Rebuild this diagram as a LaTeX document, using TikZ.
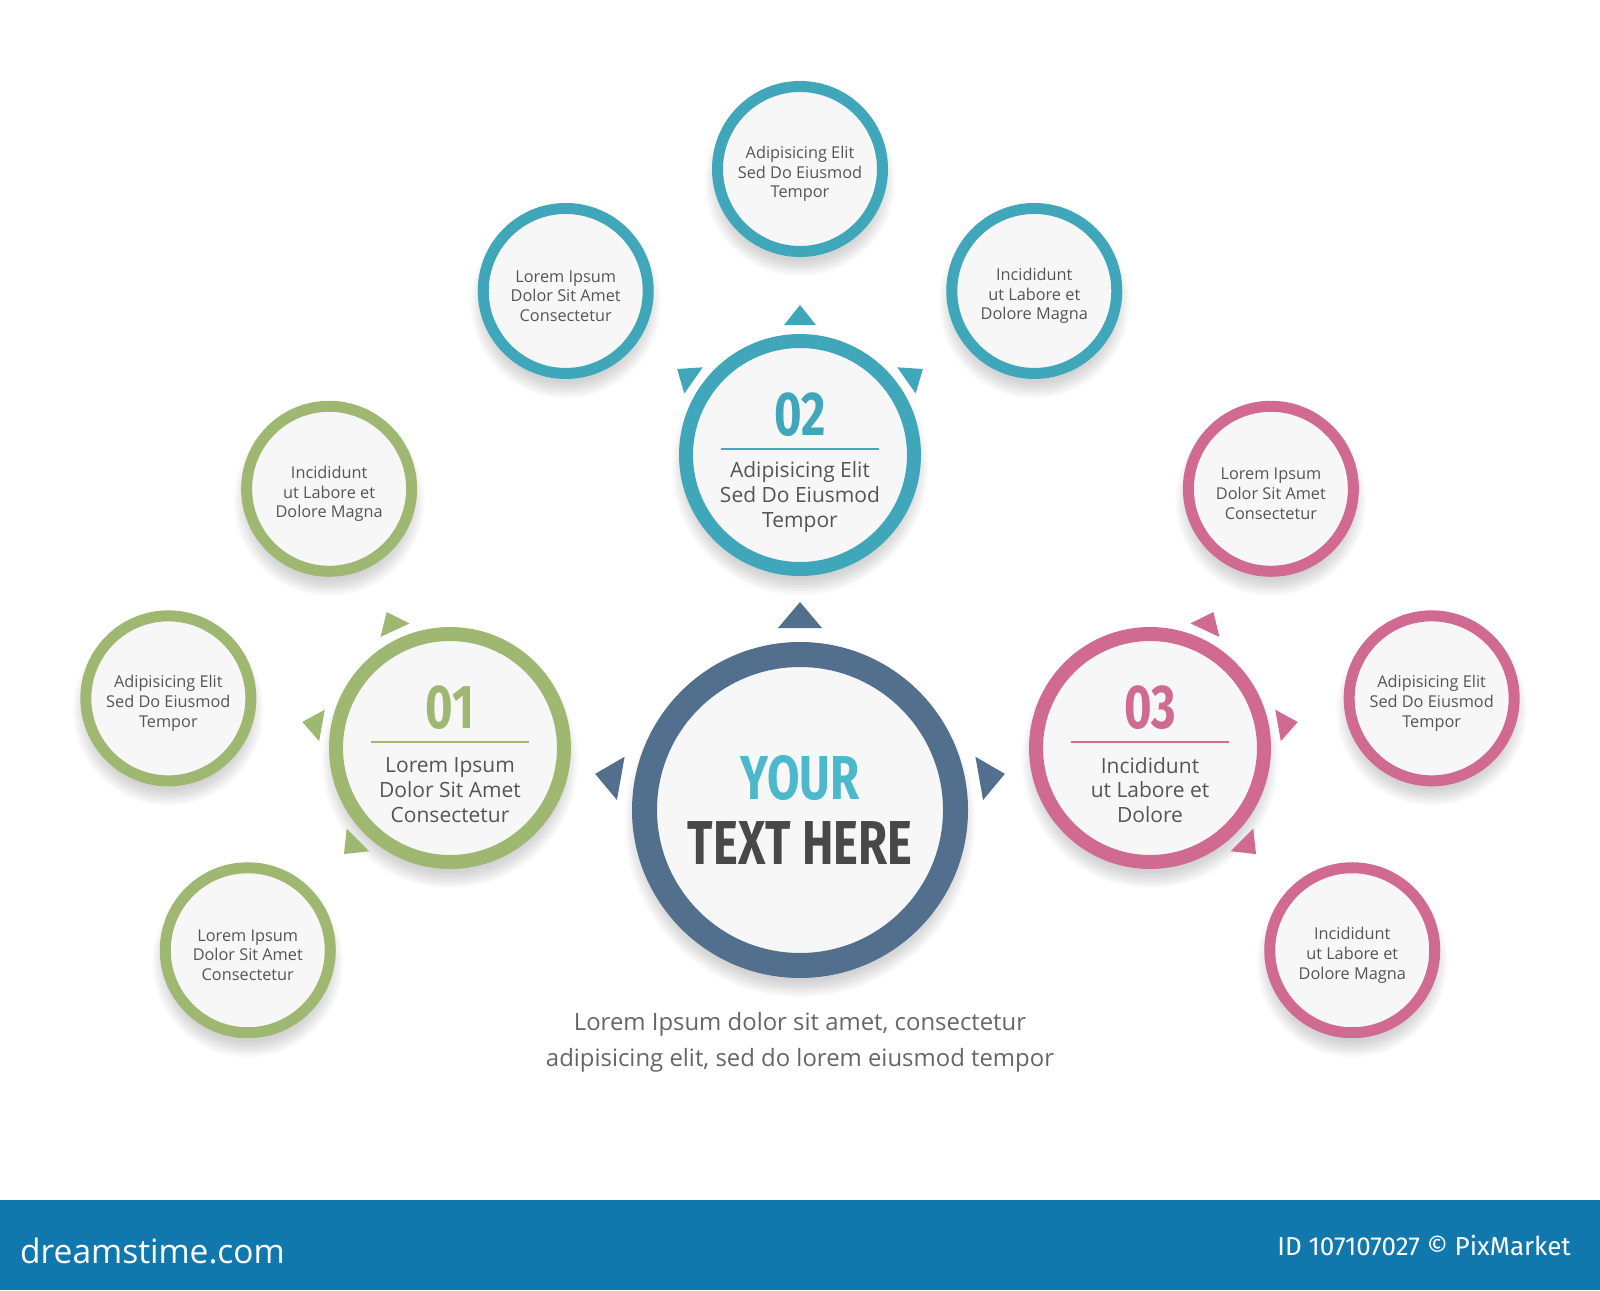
\documentclass[tikz,border=0pt]{standalone}
\usepackage{fontspec}
\setmainfont{Open Sans}
\newfontfamily\headfont[FakeStretch=0.76]{Fira Sans}
\newfontfamily\idfont{Fira Sans}
\usetikzlibrary{calc}
\definecolor{cTeal}{RGB}{64,166,186}
\definecolor{cYour}{RGB}{75,184,204}
\definecolor{cGreen}{RGB}{158,184,114}
\definecolor{cPink}{RGB}{208,106,145}
\definecolor{cDark}{RGB}{82,111,141}
\definecolor{cFill}{RGB}{247,247,247}
\definecolor{cTxt}{RGB}{85,85,85}
\definecolor{cBar}{RGB}{17,120,174}
\newcommand\softshadow[2]{%
  \foreach \k in {1,...,12}{\fill[black,opacity=0.015] ($(#1)+(0,12)$) circle ({#2+9-\k*1.5});}}
\newcommand\tri[6]{%
  \fill[#6] ($(#1)+(#2:#3)$) -- ($(#1)+(#2:#4)+(#2+90:#5)$) -- ($(#1)+(#2:#4)+(#2-90:#5)$) -- cycle;}
\tikzset{
  ring/.style={circle, inner sep=0pt, fill=cFill, draw=#1},
  smallc/.style={ring=#1, minimum size=165pt, line width=11pt},
  mainc/.style={ring=#1, minimum size=228pt, line width=14pt},
  smalltxt/.style={align=center, text=cTxt, inner sep=0pt, font=\fontsize{16.3}{19.6}\selectfont},
  maintxt/.style={align=center, text=cTxt, inner sep=0pt, font=\fontsize{21}{24.6}\selectfont},
  numtxt/.style={inner sep=0pt, text=#1, font=\headfont\bfseries\fontsize{62}{62}\selectfont},
}
\begin{document}
\begin{tikzpicture}[x=1pt,y=-1pt]
\useasboundingbox (0,0) rectangle (1600,1290);
% ---- coordinates
\coordinate (pc) at (800,810);
\coordinate (p1) at (450,748);
\coordinate (p2) at (800,455);
\coordinate (p3) at (1150,748);
\coordinate (p2a) at ($(p2)+(-145:286)$);
\coordinate (p2b) at ($(p2)+(-90:286)$);
\coordinate (p2c) at ($(p2)+(-35:286)$);
\coordinate (p1a) at ($(p1)+(-115:286)$);
\coordinate (p1b) at ($(p1)+(-170:286)$);
\coordinate (p1c) at ($(p1)+(135:286)$);
\coordinate (p3a) at ($(p3)+(-65:286)$);
\coordinate (p3b) at ($(p3)+(-10:286)$);
\coordinate (p3c) at ($(p3)+(45:286)$);
% ---- shadows
\foreach \p in {p2a,p2b,p2c,p1a,p1b,p1c,p3a,p3b,p3c}{\softshadow{\p}{88}}
\foreach \p in {p1,p2,p3}{\softshadow{\p}{121}}
\softshadow{pc}{168}
% ---- triangles
\tri{pc}{-90}{208}{182}{22}{cDark}
\tri{pc}{-170}{208}{182}{22}{cDark}
\tri{pc}{-10}{208}{182}{22}{cDark}
\tri{p2}{-90}{150}{130}{16}{cTeal}
\tri{p2}{-145}{150}{130}{16}{cTeal}
\tri{p2}{-35}{150}{130}{16}{cTeal}
\tri{p1}{-115}{150}{130}{16}{cGreen}
\tri{p1}{-170}{150}{130}{16}{cGreen}
\tri{p1}{135}{150}{130}{16}{cGreen}
\tri{p3}{-65}{150}{130}{16}{cPink}
\tri{p3}{-10}{150}{130}{16}{cPink}
\tri{p3}{45}{150}{130}{16}{cPink}
% ---- small circles
\node[smallc=cTeal] (c2a) at (p2a) {};
\node[smallc=cTeal] (c2b) at (p2b) {};
\node[smallc=cTeal] (c2c) at (p2c) {};
\node[smallc=cGreen] (c1a) at (p1a) {};
\node[smallc=cGreen] (c1b) at (p1b) {};
\node[smallc=cGreen] (c1c) at (p1c) {};
\node[smallc=cPink] (c3a) at (p3a) {};
\node[smallc=cPink] (c3b) at (p3b) {};
\node[smallc=cPink] (c3c) at (p3c) {};
\node[smalltxt] (t2a) at ($(p2a)+(0,5)$) {Lorem Ipsum\\Dolor Sit Amet\\Consectetur};
\node[smalltxt] (t2b) at ($(p2b)+(0,5)$) {Adipisicing Elit\\Sed Do Eiusmod\\Tempor};
\node[smalltxt] (t2c) at ($(p2c)+(0,5)$) {Incididunt\\ut Labore et\\Dolore Magna};
\node[smalltxt] (t1a) at ($(p1a)+(0,5)$) {Incididunt\\ut Labore et\\Dolore Magna};
\node[smalltxt] (t1b) at ($(p1b)+(0,5)$) {Adipisicing Elit\\Sed Do Eiusmod\\Tempor};
\node[smalltxt] (t1c) at ($(p1c)+(0,5)$) {Lorem Ipsum\\Dolor Sit Amet\\Consectetur};
\node[smalltxt] (t3a) at ($(p3a)+(0,5)$) {Lorem Ipsum\\Dolor Sit Amet\\Consectetur};
\node[smalltxt] (t3b) at ($(p3b)+(0,5)$) {Adipisicing Elit\\Sed Do Eiusmod\\Tempor};
\node[smalltxt] (t3c) at ($(p3c)+(0,5)$) {Incididunt\\ut Labore et\\Dolore Magna};
% ---- main circles
\node[mainc=cGreen] (c1) at (p1) {};
\node[mainc=cTeal] (c2) at (p2) {};
\node[mainc=cPink] (c3) at (p3) {};
\foreach \p/\c/\n in {p1/cGreen/01,p2/cTeal/02,p3/cPink/03}{
  \node[numtxt=\c] (n\n) at ($(\p)+(0,-40)$) {\n};
  \draw[\c, line width=1.2pt] ($(\p)+(-79,-6)$) -- ($(\p)+(79,-6)$);
}
\node[maintxt] (m1) at ($(p1)+(0,42)$) {Lorem Ipsum\\Dolor Sit Amet\\Consectetur};
\node[maintxt] (m2) at ($(p2)+(0,42)$) {Adipisicing Elit\\Sed Do Eiusmod\\Tempor};
\node[maintxt] (m3) at ($(p3)+(0,42)$) {Incididunt\\ut Labore et\\Dolore};
% ---- centre
\node[ring=cDark, minimum size=311pt, line width=25pt] (core) at (pc) {};
\node[numtxt=cYour] (your) at ($(pc)+(0,-32)$) {YOUR};
\node[numtxt={cTxt!85!black}] (here) at ($(pc)+(0,33)$) {TEXT HERE};
% ---- caption
\node[align=center, text=cTxt!90, inner sep=0pt, font=\fontsize{23.9}{35.7}\selectfont] (cap) at (800,1042)
  {Lorem Ipsum dolor sit amet, consectetur\\adipisicing elit, sed do lorem eiusmod tempor};
% ---- bar
\fill[cBar] (0,1200) rectangle (1600,1290);
\node[anchor=west, text=white, inner sep=0pt, font=\fontsize{33.5}{33.5}\selectfont] (dt) at (20,1251) {dreamstime.com};
\node[anchor=east, text=white, inner sep=0pt, font=\idfont\fontsize{26}{26}\selectfont] (id) at (1571,1245) {ID 107107027 © PixMarket};
\end{tikzpicture}
\end{document}
